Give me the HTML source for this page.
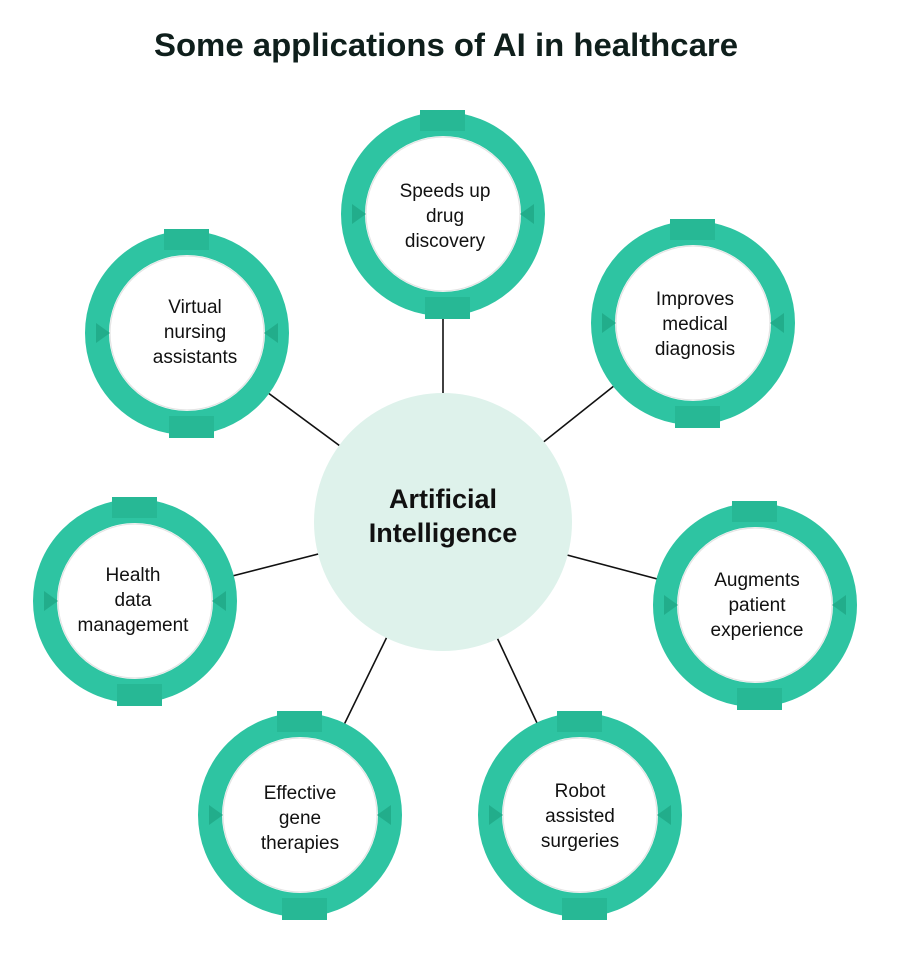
<!DOCTYPE html>
<html><head><meta charset="utf-8"><style>
html,body{margin:0;padding:0;background:#fff;}
svg{display:block;}
text{font-family:"Liberation Sans",Arial,sans-serif;}
</style></head><body>
<svg width="898" height="960" viewBox="0 0 898 960" xmlns="http://www.w3.org/2000/svg">
<rect width="898" height="960" fill="#fff"/>
<text x="446" y="56" text-anchor="middle" font-size="32.5" font-weight="bold" fill="#0f1f1c" textLength="584" lengthAdjust="spacingAndGlyphs">Some applications of AI in healthcare</text>
<g stroke="#111" stroke-width="1.6">
<line x1="443" y1="214" x2="443" y2="522"/>
<line x1="187" y1="333" x2="443" y2="522"/>
<line x1="693" y1="323" x2="443" y2="522"/>
<line x1="135" y1="601" x2="443" y2="522"/>
<line x1="755" y1="605" x2="443" y2="522"/>
<line x1="300" y1="815" x2="443" y2="522"/>
<line x1="580" y1="815" x2="443" y2="522"/>
</g>
<circle cx="443" cy="522" r="129" fill="#def2eb"/>
<text x="443" y="508" text-anchor="middle" font-size="27" font-weight="bold" fill="#111">Artificial</text>
<text x="443" y="542" text-anchor="middle" font-size="27" font-weight="bold" fill="#111">Intelligence</text>
<defs>
<g id="node">
<circle cx="0" cy="0" r="90" fill="#fff" stroke="#2ec4a2" stroke-width="24"/>
<circle cx="0" cy="0" r="77" fill="#fff" stroke="#e4e4e4" stroke-width="1.2"/>
<rect x="-23" y="-104" width="45" height="21" fill="#27b895"/>
<rect x="-18" y="83" width="45" height="22" fill="#27b895"/>
<polygon points="-91,-10 -77,0 -91,10" fill="#22ad8b"/>
<polygon points="91,-10 77,0 91,10" fill="#22ad8b"/>
</g>
</defs>
<g font-size="19" fill="#111" text-anchor="middle">
<use href="#node" x="443" y="214"/>
<text x="445" y="197">Speeds up</text><text x="445" y="222">drug</text><text x="445" y="247">discovery</text>
<use href="#node" x="187" y="333"/>
<text x="195" y="313">Virtual</text><text x="195" y="338">nursing</text><text x="195" y="363">assistants</text>
<use href="#node" x="693" y="323"/>
<text x="695" y="305">Improves</text><text x="695" y="330">medical</text><text x="695" y="355">diagnosis</text>
<use href="#node" x="135" y="601"/>
<text x="133" y="581">Health</text><text x="133" y="606">data</text><text x="133" y="631">management</text>
<use href="#node" x="755" y="605"/>
<text x="757" y="586">Augments</text><text x="757" y="611">patient</text><text x="757" y="636">experience</text>
<use href="#node" x="300" y="815"/>
<text x="300" y="799">Effective</text><text x="300" y="824">gene</text><text x="300" y="849">therapies</text>
<use href="#node" x="580" y="815"/>
<text x="580" y="797">Robot</text><text x="580" y="822">assisted</text><text x="580" y="847">surgeries</text>
</g>
</svg>
</body></html>
